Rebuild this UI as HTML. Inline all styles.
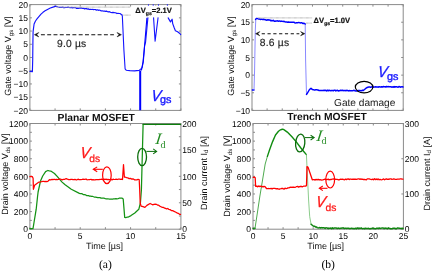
<!DOCTYPE html>
<html><head><meta charset="utf-8"><style>
html,body{margin:0;padding:0;background:#fff;width:433px;height:272px;overflow:hidden}
svg{display:block;will-change:transform;text-rendering:geometricPrecision}
</style></head><body>
<svg width="433" height="272" viewBox="0 0 433 272">
<rect width="433" height="272" fill="#fff"/>
<rect x="29.90" y="4.60" width="151.00" height="105.80" fill="none" stroke="#8a8a8a" stroke-width="1"/>
<line x1="29.90" y1="110.40" x2="29.90" y2="108.40" stroke="#8a8a8a" stroke-width="1" />
<line x1="29.90" y1="4.60" x2="29.90" y2="6.60" stroke="#8a8a8a" stroke-width="1" />
<line x1="55.07" y1="110.40" x2="55.07" y2="108.40" stroke="#8a8a8a" stroke-width="1" />
<line x1="55.07" y1="4.60" x2="55.07" y2="6.60" stroke="#8a8a8a" stroke-width="1" />
<line x1="80.23" y1="110.40" x2="80.23" y2="108.40" stroke="#8a8a8a" stroke-width="1" />
<line x1="80.23" y1="4.60" x2="80.23" y2="6.60" stroke="#8a8a8a" stroke-width="1" />
<line x1="105.40" y1="110.40" x2="105.40" y2="108.40" stroke="#8a8a8a" stroke-width="1" />
<line x1="105.40" y1="4.60" x2="105.40" y2="6.60" stroke="#8a8a8a" stroke-width="1" />
<line x1="130.57" y1="110.40" x2="130.57" y2="108.40" stroke="#8a8a8a" stroke-width="1" />
<line x1="130.57" y1="4.60" x2="130.57" y2="6.60" stroke="#8a8a8a" stroke-width="1" />
<line x1="155.73" y1="110.40" x2="155.73" y2="108.40" stroke="#8a8a8a" stroke-width="1" />
<line x1="155.73" y1="4.60" x2="155.73" y2="6.60" stroke="#8a8a8a" stroke-width="1" />
<line x1="180.90" y1="110.40" x2="180.90" y2="108.40" stroke="#8a8a8a" stroke-width="1" />
<line x1="180.90" y1="4.60" x2="180.90" y2="6.60" stroke="#8a8a8a" stroke-width="1" />
<line x1="29.90" y1="4.60" x2="31.90" y2="4.60" stroke="#8a8a8a" stroke-width="1" />
<line x1="180.90" y1="4.60" x2="178.90" y2="4.60" stroke="#8a8a8a" stroke-width="1" />
<line x1="29.90" y1="17.83" x2="31.90" y2="17.83" stroke="#8a8a8a" stroke-width="1" />
<line x1="180.90" y1="17.83" x2="178.90" y2="17.83" stroke="#8a8a8a" stroke-width="1" />
<line x1="29.90" y1="31.05" x2="31.90" y2="31.05" stroke="#8a8a8a" stroke-width="1" />
<line x1="180.90" y1="31.05" x2="178.90" y2="31.05" stroke="#8a8a8a" stroke-width="1" />
<line x1="29.90" y1="44.28" x2="31.90" y2="44.28" stroke="#8a8a8a" stroke-width="1" />
<line x1="180.90" y1="44.28" x2="178.90" y2="44.28" stroke="#8a8a8a" stroke-width="1" />
<line x1="29.90" y1="57.50" x2="31.90" y2="57.50" stroke="#8a8a8a" stroke-width="1" />
<line x1="180.90" y1="57.50" x2="178.90" y2="57.50" stroke="#8a8a8a" stroke-width="1" />
<line x1="29.90" y1="70.72" x2="31.90" y2="70.72" stroke="#8a8a8a" stroke-width="1" />
<line x1="180.90" y1="70.72" x2="178.90" y2="70.72" stroke="#8a8a8a" stroke-width="1" />
<line x1="29.90" y1="83.95" x2="31.90" y2="83.95" stroke="#8a8a8a" stroke-width="1" />
<line x1="180.90" y1="83.95" x2="178.90" y2="83.95" stroke="#8a8a8a" stroke-width="1" />
<line x1="29.90" y1="97.18" x2="31.90" y2="97.18" stroke="#8a8a8a" stroke-width="1" />
<line x1="180.90" y1="97.18" x2="178.90" y2="97.18" stroke="#8a8a8a" stroke-width="1" />
<line x1="29.90" y1="110.40" x2="31.90" y2="110.40" stroke="#8a8a8a" stroke-width="1" />
<line x1="180.90" y1="110.40" x2="178.90" y2="110.40" stroke="#8a8a8a" stroke-width="1" />
<rect x="29.90" y="123.50" width="151.00" height="105.70" fill="none" stroke="#8a8a8a" stroke-width="1"/>
<line x1="29.90" y1="229.20" x2="29.90" y2="227.20" stroke="#8a8a8a" stroke-width="1" />
<line x1="29.90" y1="123.50" x2="29.90" y2="125.50" stroke="#8a8a8a" stroke-width="1" />
<line x1="55.07" y1="229.20" x2="55.07" y2="227.20" stroke="#8a8a8a" stroke-width="1" />
<line x1="55.07" y1="123.50" x2="55.07" y2="125.50" stroke="#8a8a8a" stroke-width="1" />
<line x1="80.23" y1="229.20" x2="80.23" y2="227.20" stroke="#8a8a8a" stroke-width="1" />
<line x1="80.23" y1="123.50" x2="80.23" y2="125.50" stroke="#8a8a8a" stroke-width="1" />
<line x1="105.40" y1="229.20" x2="105.40" y2="227.20" stroke="#8a8a8a" stroke-width="1" />
<line x1="105.40" y1="123.50" x2="105.40" y2="125.50" stroke="#8a8a8a" stroke-width="1" />
<line x1="130.57" y1="229.20" x2="130.57" y2="227.20" stroke="#8a8a8a" stroke-width="1" />
<line x1="130.57" y1="123.50" x2="130.57" y2="125.50" stroke="#8a8a8a" stroke-width="1" />
<line x1="155.73" y1="229.20" x2="155.73" y2="227.20" stroke="#8a8a8a" stroke-width="1" />
<line x1="155.73" y1="123.50" x2="155.73" y2="125.50" stroke="#8a8a8a" stroke-width="1" />
<line x1="180.90" y1="229.20" x2="180.90" y2="227.20" stroke="#8a8a8a" stroke-width="1" />
<line x1="180.90" y1="123.50" x2="180.90" y2="125.50" stroke="#8a8a8a" stroke-width="1" />
<line x1="29.90" y1="123.50" x2="31.90" y2="123.50" stroke="#8a8a8a" stroke-width="1" />
<line x1="29.90" y1="132.31" x2="31.90" y2="132.31" stroke="#8a8a8a" stroke-width="1" />
<line x1="29.90" y1="141.12" x2="31.90" y2="141.12" stroke="#8a8a8a" stroke-width="1" />
<line x1="29.90" y1="149.93" x2="31.90" y2="149.93" stroke="#8a8a8a" stroke-width="1" />
<line x1="29.90" y1="158.73" x2="31.90" y2="158.73" stroke="#8a8a8a" stroke-width="1" />
<line x1="29.90" y1="167.54" x2="31.90" y2="167.54" stroke="#8a8a8a" stroke-width="1" />
<line x1="29.90" y1="176.35" x2="31.90" y2="176.35" stroke="#8a8a8a" stroke-width="1" />
<line x1="29.90" y1="185.16" x2="31.90" y2="185.16" stroke="#8a8a8a" stroke-width="1" />
<line x1="29.90" y1="193.97" x2="31.90" y2="193.97" stroke="#8a8a8a" stroke-width="1" />
<line x1="29.90" y1="202.77" x2="31.90" y2="202.77" stroke="#8a8a8a" stroke-width="1" />
<line x1="29.90" y1="211.58" x2="31.90" y2="211.58" stroke="#8a8a8a" stroke-width="1" />
<line x1="29.90" y1="220.39" x2="31.90" y2="220.39" stroke="#8a8a8a" stroke-width="1" />
<line x1="29.90" y1="229.20" x2="31.90" y2="229.20" stroke="#8a8a8a" stroke-width="1" />
<line x1="180.90" y1="123.50" x2="178.90" y2="123.50" stroke="#8a8a8a" stroke-width="1" />
<line x1="180.90" y1="136.71" x2="178.90" y2="136.71" stroke="#8a8a8a" stroke-width="1" />
<line x1="180.90" y1="149.93" x2="178.90" y2="149.93" stroke="#8a8a8a" stroke-width="1" />
<line x1="180.90" y1="163.14" x2="178.90" y2="163.14" stroke="#8a8a8a" stroke-width="1" />
<line x1="180.90" y1="176.35" x2="178.90" y2="176.35" stroke="#8a8a8a" stroke-width="1" />
<line x1="180.90" y1="189.56" x2="178.90" y2="189.56" stroke="#8a8a8a" stroke-width="1" />
<line x1="180.90" y1="202.77" x2="178.90" y2="202.77" stroke="#8a8a8a" stroke-width="1" />
<line x1="180.90" y1="215.99" x2="178.90" y2="215.99" stroke="#8a8a8a" stroke-width="1" />
<line x1="180.90" y1="229.20" x2="178.90" y2="229.20" stroke="#8a8a8a" stroke-width="1" />
<rect x="252.00" y="4.60" width="151.20" height="105.80" fill="none" stroke="#8a8a8a" stroke-width="1"/>
<line x1="252.00" y1="110.40" x2="252.00" y2="108.40" stroke="#8a8a8a" stroke-width="1" />
<line x1="252.00" y1="4.60" x2="252.00" y2="6.60" stroke="#8a8a8a" stroke-width="1" />
<line x1="267.12" y1="110.40" x2="267.12" y2="108.40" stroke="#8a8a8a" stroke-width="1" />
<line x1="267.12" y1="4.60" x2="267.12" y2="6.60" stroke="#8a8a8a" stroke-width="1" />
<line x1="282.24" y1="110.40" x2="282.24" y2="108.40" stroke="#8a8a8a" stroke-width="1" />
<line x1="282.24" y1="4.60" x2="282.24" y2="6.60" stroke="#8a8a8a" stroke-width="1" />
<line x1="297.36" y1="110.40" x2="297.36" y2="108.40" stroke="#8a8a8a" stroke-width="1" />
<line x1="297.36" y1="4.60" x2="297.36" y2="6.60" stroke="#8a8a8a" stroke-width="1" />
<line x1="312.48" y1="110.40" x2="312.48" y2="108.40" stroke="#8a8a8a" stroke-width="1" />
<line x1="312.48" y1="4.60" x2="312.48" y2="6.60" stroke="#8a8a8a" stroke-width="1" />
<line x1="327.60" y1="110.40" x2="327.60" y2="108.40" stroke="#8a8a8a" stroke-width="1" />
<line x1="327.60" y1="4.60" x2="327.60" y2="6.60" stroke="#8a8a8a" stroke-width="1" />
<line x1="342.72" y1="110.40" x2="342.72" y2="108.40" stroke="#8a8a8a" stroke-width="1" />
<line x1="342.72" y1="4.60" x2="342.72" y2="6.60" stroke="#8a8a8a" stroke-width="1" />
<line x1="357.84" y1="110.40" x2="357.84" y2="108.40" stroke="#8a8a8a" stroke-width="1" />
<line x1="357.84" y1="4.60" x2="357.84" y2="6.60" stroke="#8a8a8a" stroke-width="1" />
<line x1="372.96" y1="110.40" x2="372.96" y2="108.40" stroke="#8a8a8a" stroke-width="1" />
<line x1="372.96" y1="4.60" x2="372.96" y2="6.60" stroke="#8a8a8a" stroke-width="1" />
<line x1="388.08" y1="110.40" x2="388.08" y2="108.40" stroke="#8a8a8a" stroke-width="1" />
<line x1="388.08" y1="4.60" x2="388.08" y2="6.60" stroke="#8a8a8a" stroke-width="1" />
<line x1="403.20" y1="110.40" x2="403.20" y2="108.40" stroke="#8a8a8a" stroke-width="1" />
<line x1="403.20" y1="4.60" x2="403.20" y2="6.60" stroke="#8a8a8a" stroke-width="1" />
<line x1="252.00" y1="4.60" x2="254.00" y2="4.60" stroke="#8a8a8a" stroke-width="1" />
<line x1="403.20" y1="4.60" x2="401.20" y2="4.60" stroke="#8a8a8a" stroke-width="1" />
<line x1="252.00" y1="22.23" x2="254.00" y2="22.23" stroke="#8a8a8a" stroke-width="1" />
<line x1="403.20" y1="22.23" x2="401.20" y2="22.23" stroke="#8a8a8a" stroke-width="1" />
<line x1="252.00" y1="39.87" x2="254.00" y2="39.87" stroke="#8a8a8a" stroke-width="1" />
<line x1="403.20" y1="39.87" x2="401.20" y2="39.87" stroke="#8a8a8a" stroke-width="1" />
<line x1="252.00" y1="57.50" x2="254.00" y2="57.50" stroke="#8a8a8a" stroke-width="1" />
<line x1="403.20" y1="57.50" x2="401.20" y2="57.50" stroke="#8a8a8a" stroke-width="1" />
<line x1="252.00" y1="75.13" x2="254.00" y2="75.13" stroke="#8a8a8a" stroke-width="1" />
<line x1="403.20" y1="75.13" x2="401.20" y2="75.13" stroke="#8a8a8a" stroke-width="1" />
<line x1="252.00" y1="92.77" x2="254.00" y2="92.77" stroke="#8a8a8a" stroke-width="1" />
<line x1="403.20" y1="92.77" x2="401.20" y2="92.77" stroke="#8a8a8a" stroke-width="1" />
<line x1="252.00" y1="110.40" x2="254.00" y2="110.40" stroke="#8a8a8a" stroke-width="1" />
<line x1="403.20" y1="110.40" x2="401.20" y2="110.40" stroke="#8a8a8a" stroke-width="1" />
<rect x="253.00" y="123.50" width="150.40" height="105.70" fill="none" stroke="#8a8a8a" stroke-width="1"/>
<line x1="253.00" y1="229.20" x2="253.00" y2="227.20" stroke="#8a8a8a" stroke-width="1" />
<line x1="253.00" y1="123.50" x2="253.00" y2="125.50" stroke="#8a8a8a" stroke-width="1" />
<line x1="268.04" y1="229.20" x2="268.04" y2="227.20" stroke="#8a8a8a" stroke-width="1" />
<line x1="268.04" y1="123.50" x2="268.04" y2="125.50" stroke="#8a8a8a" stroke-width="1" />
<line x1="283.08" y1="229.20" x2="283.08" y2="227.20" stroke="#8a8a8a" stroke-width="1" />
<line x1="283.08" y1="123.50" x2="283.08" y2="125.50" stroke="#8a8a8a" stroke-width="1" />
<line x1="298.12" y1="229.20" x2="298.12" y2="227.20" stroke="#8a8a8a" stroke-width="1" />
<line x1="298.12" y1="123.50" x2="298.12" y2="125.50" stroke="#8a8a8a" stroke-width="1" />
<line x1="313.16" y1="229.20" x2="313.16" y2="227.20" stroke="#8a8a8a" stroke-width="1" />
<line x1="313.16" y1="123.50" x2="313.16" y2="125.50" stroke="#8a8a8a" stroke-width="1" />
<line x1="328.20" y1="229.20" x2="328.20" y2="227.20" stroke="#8a8a8a" stroke-width="1" />
<line x1="328.20" y1="123.50" x2="328.20" y2="125.50" stroke="#8a8a8a" stroke-width="1" />
<line x1="343.24" y1="229.20" x2="343.24" y2="227.20" stroke="#8a8a8a" stroke-width="1" />
<line x1="343.24" y1="123.50" x2="343.24" y2="125.50" stroke="#8a8a8a" stroke-width="1" />
<line x1="358.28" y1="229.20" x2="358.28" y2="227.20" stroke="#8a8a8a" stroke-width="1" />
<line x1="358.28" y1="123.50" x2="358.28" y2="125.50" stroke="#8a8a8a" stroke-width="1" />
<line x1="373.32" y1="229.20" x2="373.32" y2="227.20" stroke="#8a8a8a" stroke-width="1" />
<line x1="373.32" y1="123.50" x2="373.32" y2="125.50" stroke="#8a8a8a" stroke-width="1" />
<line x1="388.36" y1="229.20" x2="388.36" y2="227.20" stroke="#8a8a8a" stroke-width="1" />
<line x1="388.36" y1="123.50" x2="388.36" y2="125.50" stroke="#8a8a8a" stroke-width="1" />
<line x1="403.40" y1="229.20" x2="403.40" y2="227.20" stroke="#8a8a8a" stroke-width="1" />
<line x1="403.40" y1="123.50" x2="403.40" y2="125.50" stroke="#8a8a8a" stroke-width="1" />
<line x1="253.00" y1="123.50" x2="255.00" y2="123.50" stroke="#8a8a8a" stroke-width="1" />
<line x1="253.00" y1="132.31" x2="255.00" y2="132.31" stroke="#8a8a8a" stroke-width="1" />
<line x1="253.00" y1="141.12" x2="255.00" y2="141.12" stroke="#8a8a8a" stroke-width="1" />
<line x1="253.00" y1="149.93" x2="255.00" y2="149.93" stroke="#8a8a8a" stroke-width="1" />
<line x1="253.00" y1="158.73" x2="255.00" y2="158.73" stroke="#8a8a8a" stroke-width="1" />
<line x1="253.00" y1="167.54" x2="255.00" y2="167.54" stroke="#8a8a8a" stroke-width="1" />
<line x1="253.00" y1="176.35" x2="255.00" y2="176.35" stroke="#8a8a8a" stroke-width="1" />
<line x1="253.00" y1="185.16" x2="255.00" y2="185.16" stroke="#8a8a8a" stroke-width="1" />
<line x1="253.00" y1="193.97" x2="255.00" y2="193.97" stroke="#8a8a8a" stroke-width="1" />
<line x1="253.00" y1="202.77" x2="255.00" y2="202.77" stroke="#8a8a8a" stroke-width="1" />
<line x1="253.00" y1="211.58" x2="255.00" y2="211.58" stroke="#8a8a8a" stroke-width="1" />
<line x1="253.00" y1="220.39" x2="255.00" y2="220.39" stroke="#8a8a8a" stroke-width="1" />
<line x1="253.00" y1="229.20" x2="255.00" y2="229.20" stroke="#8a8a8a" stroke-width="1" />
<line x1="403.40" y1="123.50" x2="401.40" y2="123.50" stroke="#8a8a8a" stroke-width="1" />
<line x1="403.40" y1="158.73" x2="401.40" y2="158.73" stroke="#8a8a8a" stroke-width="1" />
<line x1="403.40" y1="193.97" x2="401.40" y2="193.97" stroke="#8a8a8a" stroke-width="1" />
<line x1="403.40" y1="229.20" x2="401.40" y2="229.20" stroke="#8a8a8a" stroke-width="1" />
<text x="28.00" y="7.80" font-family='"Liberation Sans", sans-serif' font-size="8.5" text-anchor="end" font-weight="normal" font-style="normal" fill="#000" >20</text>
<text x="28.00" y="21.03" font-family='"Liberation Sans", sans-serif' font-size="8.5" text-anchor="end" font-weight="normal" font-style="normal" fill="#000" >15</text>
<text x="28.00" y="34.25" font-family='"Liberation Sans", sans-serif' font-size="8.5" text-anchor="end" font-weight="normal" font-style="normal" fill="#000" >10</text>
<text x="28.00" y="47.48" font-family='"Liberation Sans", sans-serif' font-size="8.5" text-anchor="end" font-weight="normal" font-style="normal" fill="#000" >5</text>
<text x="28.00" y="60.70" font-family='"Liberation Sans", sans-serif' font-size="8.5" text-anchor="end" font-weight="normal" font-style="normal" fill="#000" >0</text>
<text x="28.00" y="73.92" font-family='"Liberation Sans", sans-serif' font-size="8.5" text-anchor="end" font-weight="normal" font-style="normal" fill="#000" >−5</text>
<text x="28.00" y="87.15" font-family='"Liberation Sans", sans-serif' font-size="8.5" text-anchor="end" font-weight="normal" font-style="normal" fill="#000" >−10</text>
<text x="28.00" y="100.38" font-family='"Liberation Sans", sans-serif' font-size="8.5" text-anchor="end" font-weight="normal" font-style="normal" fill="#000" >−15</text>
<text x="28.00" y="113.60" font-family='"Liberation Sans", sans-serif' font-size="8.5" text-anchor="end" font-weight="normal" font-style="normal" fill="#000" >−20</text>
<text x="28.00" y="126.70" font-family='"Liberation Sans", sans-serif' font-size="8.5" text-anchor="end" font-weight="normal" font-style="normal" fill="#000" >1200</text>
<text x="28.00" y="144.32" font-family='"Liberation Sans", sans-serif' font-size="8.5" text-anchor="end" font-weight="normal" font-style="normal" fill="#000" >1000</text>
<text x="28.00" y="161.93" font-family='"Liberation Sans", sans-serif' font-size="8.5" text-anchor="end" font-weight="normal" font-style="normal" fill="#000" >800</text>
<text x="28.00" y="179.55" font-family='"Liberation Sans", sans-serif' font-size="8.5" text-anchor="end" font-weight="normal" font-style="normal" fill="#000" >600</text>
<text x="28.00" y="197.17" font-family='"Liberation Sans", sans-serif' font-size="8.5" text-anchor="end" font-weight="normal" font-style="normal" fill="#000" >400</text>
<text x="28.00" y="214.78" font-family='"Liberation Sans", sans-serif' font-size="8.5" text-anchor="end" font-weight="normal" font-style="normal" fill="#000" >200</text>
<text x="28.00" y="232.40" font-family='"Liberation Sans", sans-serif' font-size="8.5" text-anchor="end" font-weight="normal" font-style="normal" fill="#000" >0</text>
<text x="182.30" y="126.70" font-family='"Liberation Sans", sans-serif' font-size="8.5" text-anchor="start" font-weight="normal" font-style="normal" fill="#000" >200</text>
<text x="182.30" y="153.12" font-family='"Liberation Sans", sans-serif' font-size="8.5" text-anchor="start" font-weight="normal" font-style="normal" fill="#000" >150</text>
<text x="182.30" y="179.55" font-family='"Liberation Sans", sans-serif' font-size="8.5" text-anchor="start" font-weight="normal" font-style="normal" fill="#000" >100</text>
<text x="182.30" y="205.97" font-family='"Liberation Sans", sans-serif' font-size="8.5" text-anchor="start" font-weight="normal" font-style="normal" fill="#000" >50</text>
<text x="182.30" y="232.40" font-family='"Liberation Sans", sans-serif' font-size="8.5" text-anchor="start" font-weight="normal" font-style="normal" fill="#000" >0</text>
<text x="29.90" y="238.70" font-family='"Liberation Sans", sans-serif' font-size="8.5" text-anchor="middle" font-weight="normal" font-style="normal" fill="#000" >0</text>
<text x="80.23" y="238.70" font-family='"Liberation Sans", sans-serif' font-size="8.5" text-anchor="middle" font-weight="normal" font-style="normal" fill="#000" >5</text>
<text x="130.57" y="238.70" font-family='"Liberation Sans", sans-serif' font-size="8.5" text-anchor="middle" font-weight="normal" font-style="normal" fill="#000" >10</text>
<text x="180.90" y="238.70" font-family='"Liberation Sans", sans-serif' font-size="8.5" text-anchor="middle" font-weight="normal" font-style="normal" fill="#000" >15</text>
<text x="250.10" y="7.80" font-family='"Liberation Sans", sans-serif' font-size="8.5" text-anchor="end" font-weight="normal" font-style="normal" fill="#000" >20</text>
<text x="250.10" y="25.43" font-family='"Liberation Sans", sans-serif' font-size="8.5" text-anchor="end" font-weight="normal" font-style="normal" fill="#000" >15</text>
<text x="250.10" y="43.07" font-family='"Liberation Sans", sans-serif' font-size="8.5" text-anchor="end" font-weight="normal" font-style="normal" fill="#000" >10</text>
<text x="250.10" y="60.70" font-family='"Liberation Sans", sans-serif' font-size="8.5" text-anchor="end" font-weight="normal" font-style="normal" fill="#000" >5</text>
<text x="250.10" y="78.33" font-family='"Liberation Sans", sans-serif' font-size="8.5" text-anchor="end" font-weight="normal" font-style="normal" fill="#000" >0</text>
<text x="250.10" y="95.97" font-family='"Liberation Sans", sans-serif' font-size="8.5" text-anchor="end" font-weight="normal" font-style="normal" fill="#000" >−5</text>
<text x="250.10" y="113.60" font-family='"Liberation Sans", sans-serif' font-size="8.5" text-anchor="end" font-weight="normal" font-style="normal" fill="#000" >−10</text>
<text x="250.90" y="126.70" font-family='"Liberation Sans", sans-serif' font-size="8.5" text-anchor="end" font-weight="normal" font-style="normal" fill="#000" >1200</text>
<text x="250.90" y="144.32" font-family='"Liberation Sans", sans-serif' font-size="8.5" text-anchor="end" font-weight="normal" font-style="normal" fill="#000" >1000</text>
<text x="250.90" y="161.93" font-family='"Liberation Sans", sans-serif' font-size="8.5" text-anchor="end" font-weight="normal" font-style="normal" fill="#000" >800</text>
<text x="250.90" y="179.55" font-family='"Liberation Sans", sans-serif' font-size="8.5" text-anchor="end" font-weight="normal" font-style="normal" fill="#000" >600</text>
<text x="250.90" y="197.17" font-family='"Liberation Sans", sans-serif' font-size="8.5" text-anchor="end" font-weight="normal" font-style="normal" fill="#000" >400</text>
<text x="250.90" y="214.78" font-family='"Liberation Sans", sans-serif' font-size="8.5" text-anchor="end" font-weight="normal" font-style="normal" fill="#000" >200</text>
<text x="250.90" y="232.40" font-family='"Liberation Sans", sans-serif' font-size="8.5" text-anchor="end" font-weight="normal" font-style="normal" fill="#000" >0</text>
<text x="404.80" y="126.70" font-family='"Liberation Sans", sans-serif' font-size="8.5" text-anchor="start" font-weight="normal" font-style="normal" fill="#000" >300</text>
<text x="404.80" y="161.93" font-family='"Liberation Sans", sans-serif' font-size="8.5" text-anchor="start" font-weight="normal" font-style="normal" fill="#000" >200</text>
<text x="404.80" y="197.17" font-family='"Liberation Sans", sans-serif' font-size="8.5" text-anchor="start" font-weight="normal" font-style="normal" fill="#000" >100</text>
<text x="404.80" y="232.40" font-family='"Liberation Sans", sans-serif' font-size="8.5" text-anchor="start" font-weight="normal" font-style="normal" fill="#000" >0</text>
<text x="253.00" y="238.70" font-family='"Liberation Sans", sans-serif' font-size="8.5" text-anchor="middle" font-weight="normal" font-style="normal" fill="#000" >0</text>
<text x="283.08" y="238.70" font-family='"Liberation Sans", sans-serif' font-size="8.5" text-anchor="middle" font-weight="normal" font-style="normal" fill="#000" >5</text>
<text x="313.16" y="238.70" font-family='"Liberation Sans", sans-serif' font-size="8.5" text-anchor="middle" font-weight="normal" font-style="normal" fill="#000" >10</text>
<text x="343.24" y="238.70" font-family='"Liberation Sans", sans-serif' font-size="8.5" text-anchor="middle" font-weight="normal" font-style="normal" fill="#000" >15</text>
<text x="373.32" y="238.70" font-family='"Liberation Sans", sans-serif' font-size="8.5" text-anchor="middle" font-weight="normal" font-style="normal" fill="#000" >20</text>
<text x="403.40" y="238.70" font-family='"Liberation Sans", sans-serif' font-size="8.5" text-anchor="middle" font-weight="normal" font-style="normal" fill="#000" >25</text>
<text transform="translate(11.30,56.00) rotate(-90)" font-family='"Liberation Sans", sans-serif' font-size="9" text-anchor="middle" fill="#111">Gate voltage V<tspan font-size="6.1" dy="1.5">gs</tspan><tspan dy="-1.5"> </tspan>[V]</text>
<text transform="translate(234.30,56.00) rotate(-90)" font-family='"Liberation Sans", sans-serif' font-size="9" text-anchor="middle" fill="#111">Gate voltage V<tspan font-size="6.1" dy="1.5">gs</tspan><tspan dy="-1.5"> </tspan>[V]</text>
<text transform="translate(8.00,174.00) rotate(-90)" font-family='"Liberation Sans", sans-serif' font-size="9" text-anchor="middle" fill="#111">Drain voltage V<tspan font-size="6.1" dy="1.5">ds</tspan><tspan dy="-1.5"> </tspan>[V]</text>
<text transform="translate(230.30,176.00) rotate(-90)" font-family='"Liberation Sans", sans-serif' font-size="9" text-anchor="middle" fill="#111">Drain voltage V<tspan font-size="6.1" dy="1.5">ds</tspan><tspan dy="-1.5"> </tspan>[V]</text>
<text transform="translate(206.60,173.00) rotate(-90)" font-family='"Liberation Sans", sans-serif' font-size="9" text-anchor="middle" fill="#111">Drain current I<tspan font-size="6.1" dy="1.5">d</tspan><tspan dy="-1.5"> </tspan>[A]</text>
<text transform="translate(429.60,173.50) rotate(-90)" font-family='"Liberation Sans", sans-serif' font-size="9" text-anchor="middle" fill="#111">Drain current I<tspan font-size="6.1" dy="1.5">d</tspan><tspan dy="-1.5"> </tspan>[A]</text>
<text x="104.50" y="249.00" font-family='"Liberation Sans", sans-serif' font-size="9.0" text-anchor="middle" font-weight="normal" font-style="normal" fill="#111" >Time [µs]</text>
<text x="325.70" y="249.00" font-family='"Liberation Sans", sans-serif' font-size="9.0" text-anchor="middle" font-weight="normal" font-style="normal" fill="#111" >Time [µs]</text>
<text x="105.40" y="268.10" font-family='"Liberation Serif", serif' font-size="11.6" text-anchor="middle" font-weight="normal" font-style="normal" fill="#000" >(a)</text>
<text x="328.20" y="268.10" font-family='"Liberation Serif", serif' font-size="11.6" text-anchor="middle" font-weight="normal" font-style="normal" fill="#000" >(b)</text>
<text x="96.20" y="120.90" font-family='"Liberation Sans", sans-serif' font-size="10.3" text-anchor="middle" font-weight="bold" font-style="normal" fill="#111" >Planar MOSFET</text>
<text x="327.10" y="120.10" font-family='"Liberation Sans", sans-serif' font-size="10.3" text-anchor="middle" font-weight="bold" font-style="normal" fill="#111" >Trench MOSFET</text>
<polyline points="29.90,71.40 32.40,71.60 32.70,60.00 32.90,42.00 33.10,31.40 34.10,24.00 35.50,21.00 37.00,18.90 38.90,16.70 41.00,14.20 43.00,12.30 45.10,10.80 47.50,9.40 50.30,8.00 53.00,7.10 55.40,6.40" fill="none" stroke="#1414ff" stroke-width="1.15" stroke-linejoin="round" stroke-linecap="round" />
<polyline points="55.40,6.40 56.70,6.43 58.00,7.00 59.00,7.30 60.00,7.30 60.91,7.44 61.82,7.34 62.73,7.15 63.64,7.64 64.55,7.68 65.45,7.47 66.36,7.49 67.27,7.31 68.18,7.15 69.09,7.47 70.00,7.60 70.91,7.71 71.82,7.35 72.73,7.97 73.64,7.57 74.55,7.61 75.45,7.51 76.36,8.32 77.27,8.15 78.18,8.31 79.09,8.15 80.00,8.10 80.91,7.84 81.82,8.18 82.73,8.43 83.64,8.23 84.55,9.01 85.45,8.65 86.36,8.59 87.27,9.23 88.18,8.78 89.09,9.53 90.00,9.30 90.91,9.35 91.82,9.52 92.73,9.45 93.64,9.65 94.55,9.50 95.45,9.48 96.36,10.23 97.27,9.82 98.18,10.34 99.09,9.98 100.00,10.30 100.91,10.83 101.82,10.92 102.73,10.97 103.64,11.13 104.55,11.14 105.45,11.41 106.36,11.08 107.27,11.52 108.18,11.95 109.09,11.61 110.00,12.00 111.00,12.50 112.00,12.64 113.00,12.42 114.00,12.54 115.00,12.77 116.00,12.88 117.00,13.53 118.00,13.30 119.00,13.51 120.00,13.52 121.00,14.20 122.30,15.20" fill="none" stroke="#1414ff" stroke-width="1.2" stroke-linejoin="round" stroke-linecap="round" />
<polyline points="122.30,15.20 123.90,50.00 125.10,68.80 126.20,70.20 129.80,70.60 134.50,70.90 139.20,70.40 140.90,68.80 142.10,67.60 143.30,61.80 144.60,45.90 145.60,42.00 147.90,18.00 148.50,4.80" fill="none" stroke="#1414ff" stroke-width="1.1" stroke-linejoin="round" stroke-linecap="round" />
<polyline points="141.50,70.00 143.00,62.00 144.20,50.00 146.90,18.00" fill="none" stroke="#0000ff" stroke-width="1.1" stroke-linejoin="round" stroke-linecap="round" />
<line x1="140.20" y1="70.50" x2="140.20" y2="110.20" stroke="#0000ff" stroke-width="2" />
<polyline points="153.20,4.80 153.60,18.20 155.10,41.10 158.00,18.20 158.50,4.80" fill="none" stroke="#1414ff" stroke-width="1.1" stroke-linejoin="round" stroke-linecap="round" />
<polyline points="167.40,4.80 168.30,18.10 170.50,21.90 172.10,19.20 172.70,23.60 174.30,28.00 175.40,30.70 177.60,31.80 179.80,33.50 180.70,34.60" fill="none" stroke="#1414ff" stroke-width="1.15" stroke-linejoin="round" stroke-linecap="round" />
<line x1="56.00" y1="7.20" x2="130.60" y2="7.20" stroke="#b0b0b0" stroke-width="1.2" stroke-dasharray="0.7 0.5"/>
<line x1="122.50" y1="15.20" x2="130.60" y2="15.20" stroke="#b0b0b0" stroke-width="1.2" stroke-dasharray="0.7 0.5"/>
<rect x="133" y="5.6" width="46" height="11.8" fill="#fff"/>
<text x="135.30" y="13.20" font-family='"Liberation Sans", sans-serif' font-size="7.6" text-anchor="start" font-weight="bold" font-style="normal" fill="#111" stroke="#111" stroke-width="0.2">ΔV<tspan font-size="5.1" dy="1.5">gs</tspan><tspan dy="-1.5">=2.1V</tspan></text>
<line x1="40.90" y1="34.70" x2="113.90" y2="34.70" stroke="#111" stroke-width="1.15" stroke-dasharray="3.95 2.35"/>
<path d="M34.40,34.70 L38.80,32.50 L36.82,34.70 L38.80,36.90 Z" fill="#111" stroke="#111" stroke-width="0.5" stroke-linejoin="round"/>
<path d="M121.40,34.70 L117.00,32.50 L118.98,34.70 L117.00,36.90 Z" fill="#111" stroke="#111" stroke-width="0.5" stroke-linejoin="round"/>
<text x="57.00" y="46.90" font-family='"Liberation Sans", sans-serif' font-size="10.3" text-anchor="start" font-weight="normal" font-style="normal" fill="#222" letter-spacing="0.2" stroke="#222" stroke-width="0.15">9.0 µs</text>
<text transform="translate(150.7,100.5) skewX(-7) scale(0.94,1)" font-family='"Liberation Sans", sans-serif' font-size="15.6" font-style="italic" fill="#1a1aff" stroke="#1a1aff" stroke-width="0.3">V</text>
<text x="160.10" y="103.10" font-family='"Liberation Sans", sans-serif' font-size="10.8" text-anchor="start" font-weight="normal" font-style="normal" fill="#1a1aff" stroke="#1a1aff" stroke-width="0.4">gs</text>
<polyline points="29.90,228.70 30.93,228.54 31.97,228.73 33.00,228.70 34.00,222.50 36.20,209.20 37.50,197.00 38.10,192.00 40.50,181.10 42.70,176.00 45.60,171.60 46.75,170.97 47.90,170.50 49.35,170.86 50.80,171.10 54.50,173.50 57.40,176.70 61.80,181.90 64.80,184.50 71.30,189.30 79.40,193.40 80.41,193.74 81.43,193.66 82.44,193.90 83.45,194.65 84.46,194.57 85.47,194.82 86.49,195.53 87.50,195.50 88.51,195.68 89.53,196.10 90.54,196.09 91.55,196.38 92.56,196.29 93.57,196.78 94.59,197.12 95.60,197.10 96.68,197.29 97.76,197.60 98.83,197.74 99.91,197.55 100.99,198.14 102.07,198.22 103.14,198.23 104.22,198.24 105.30,198.70 106.37,198.97 107.43,198.78 108.50,198.98 109.57,199.13 110.63,199.08 111.70,199.00 112.75,199.17 113.80,198.78 114.85,198.94 115.90,198.65 116.95,198.86 118.00,198.75 119.05,198.20 120.10,198.14 121.15,198.11 122.20,198.20 123.20,199.00 124.70,217.40 125.77,217.61 126.83,217.23 127.90,217.20 131.00,215.60 134.80,213.00 138.80,209.30 140.40,203.00 141.40,190.00 143.10,124.40" fill="none" stroke="#139213" stroke-width="1.25" stroke-linejoin="round" stroke-linecap="round" />
<polyline points="143.10,124.40 180.50,124.40" fill="none" stroke="#0c7f0c" stroke-width="1.2" stroke-linejoin="round" stroke-linecap="round" />
<polyline points="29.90,176.70 31.15,176.46 32.40,176.70 33.10,178.20 33.40,189.30 34.60,185.30 37.60,183.00 39.05,182.09 40.50,181.90 41.60,181.73 42.70,181.44 43.80,181.28 44.90,181.60 45.90,181.38 46.90,181.71 47.90,181.20 49.40,179.70 50.70,179.82 52.00,179.40 53.08,179.68 54.16,179.23 55.24,179.55 56.32,179.36 57.40,179.60 58.58,179.27 59.76,179.17 60.94,179.22 62.12,179.82 63.30,179.40 64.75,179.30 66.20,178.60 67.47,179.21 68.73,179.54 70.00,179.60 71.00,179.28 72.00,179.35 73.00,179.59 74.00,179.65 75.00,179.40 76.00,179.76 77.00,179.82 78.00,179.15 79.00,179.66 80.00,179.60 81.00,179.69 82.00,179.49 83.00,179.13 84.00,179.34 85.00,179.30 86.00,178.97 87.00,179.77 88.00,179.75 89.00,179.50 90.00,179.50 91.00,179.34 92.00,179.90 93.00,179.62 94.00,179.91 95.00,179.90 96.00,179.60 97.00,179.60 98.00,179.50 99.00,179.66 100.00,179.49 101.00,179.24 102.00,179.36 103.00,179.80 104.00,179.10 105.00,179.50 106.00,179.09 107.00,179.61 108.00,179.30 109.00,179.53 110.00,179.47 111.00,179.36 112.00,179.95 113.00,179.23 114.00,179.42 115.00,179.50 116.13,179.18 117.27,179.52 118.40,179.15 119.53,179.17 120.67,179.47 121.80,179.20 122.50,179.50 123.50,164.60 124.40,177.20 125.50,177.24 126.60,177.65 127.70,177.80 129.03,178.60 130.37,178.31 131.70,179.10 132.70,178.88 133.70,179.21 134.70,179.86 135.70,179.80 136.87,179.80 138.03,179.36 139.20,179.50 139.70,190.00 140.20,203.00 141.10,206.10 143.00,206.70 144.90,207.40 146.90,205.40 150.10,203.50 152.60,204.80 153.90,204.30 155.20,204.10 156.32,204.31 157.45,205.06 158.57,205.19 159.70,206.10 161.00,206.71 162.30,207.32 163.60,207.40 164.62,208.19 165.64,208.37 166.66,208.95 167.68,208.49 168.70,209.30 170.00,209.54 171.30,210.59 172.60,210.60 176.40,212.50 177.43,213.22 178.45,213.37 179.47,214.32 180.50,214.40" fill="none" stroke="#ff0000" stroke-width="1.25" stroke-linejoin="round" stroke-linecap="round" />
<ellipse cx="106.9" cy="175.2" rx="4.3" ry="8.4" fill="none" stroke="#ff0000" stroke-width="1.2"/>
<line x1="102.80" y1="169.30" x2="93.50" y2="169.30" stroke="#ff0000" stroke-width="1.1" />
<polyline points="97.2,166.9 93.3,169.3 97.2,171.7" fill="none" stroke="#ff0000" stroke-width="1.1"/>
<ellipse cx="142.1" cy="157" rx="4.4" ry="8.6" fill="none" stroke="#0b6e0b" stroke-width="1.3"/>
<line x1="146.40" y1="151.40" x2="156.30" y2="151.40" stroke="#0b6e0b" stroke-width="1.0" />
<polyline points="153.2,148.9 156.6,151.4 153.2,153.9" fill="none" stroke="#0b6e0b" stroke-width="1.1"/>
<text transform="translate(79.8,158.1) skewX(-7) scale(0.94,1)" font-family='"Liberation Sans", sans-serif' font-size="15.6" font-style="italic" fill="#ff1a1a" stroke="#ff1a1a" stroke-width="0.3">V</text>
<text x="89.30" y="161.80" font-family='"Liberation Sans", sans-serif' font-size="10.3" text-anchor="start" font-weight="normal" font-style="normal" fill="#ff1a1a" stroke="#ff1a1a" stroke-width="0.25">ds</text>
<text transform="translate(155.0,144.4) skewX(-8)" font-family='"Liberation Serif", serif' font-size="16" font-style="italic" fill="#228b22">I</text>
<text x="160.40" y="148.30" font-family='"Liberation Serif", serif' font-size="10" text-anchor="start" font-weight="normal" font-style="normal" fill="#228b22" >d</text>
<polyline points="252.30,90.00 254.00,90.00" fill="none" stroke="#0000ff" stroke-width="1.4" stroke-linejoin="round" stroke-linecap="round" />
<polyline points="254.00,90.00 254.60,70.00 255.30,30.00 255.80,19.50" fill="none" stroke="#6b6bff" stroke-width="0.8" stroke-linejoin="round" stroke-linecap="round" />
<polyline points="305.20,24.00 305.60,60.00 306.50,94.40" fill="none" stroke="#6b6bff" stroke-width="0.8" stroke-linejoin="round" stroke-linecap="round" />
<polyline points="255.60,19.40 256.40,18.40 257.50,18.61 258.60,18.90 259.41,19.05 260.23,19.44 261.04,19.17 261.86,19.31 262.67,19.47 263.49,19.25 264.30,19.60 265.20,19.72 266.10,19.93 267.00,20.17 267.90,19.73 268.80,20.01 269.70,19.95 270.60,20.64 271.50,20.50 272.40,20.74 273.30,20.31 274.20,21.15 275.10,21.22 276.00,21.06 276.90,21.12 277.80,20.84 278.70,21.20 279.59,20.90 280.48,21.40 281.36,21.11 282.25,21.30 283.14,21.43 284.02,21.35 284.91,21.78 285.80,21.90 286.70,21.90 287.60,22.27 288.50,22.07 289.40,22.21 290.30,22.15 291.20,22.33 292.10,22.22 293.00,22.30 293.89,22.20 294.77,22.85 295.66,22.92 296.55,22.87 297.44,22.84 298.33,22.60 299.21,22.61 300.10,22.90 300.96,22.83 301.82,22.76 302.68,23.41 303.54,23.22 304.40,23.40 305.20,24.00" fill="none" stroke="#0000ff" stroke-width="1.5" stroke-linejoin="round" stroke-linecap="round" />
<polyline points="306.50,94.40 307.20,93.50 309.50,89.50 311.00,88.30 312.50,89.60 313.33,89.67 314.17,89.90 315.00,90.00 315.83,89.67 316.67,89.65 317.50,90.03 318.33,90.04 319.17,90.56 320.00,90.40 320.83,90.57 321.67,90.51 322.50,90.50 323.33,90.60 324.17,90.20 325.00,90.45 325.83,90.25 326.67,90.86 327.50,90.20 328.33,90.82 329.17,90.24 330.00,90.60 330.83,90.74 331.67,90.45 332.50,90.50 333.33,90.84 334.17,90.17 335.00,90.20 335.83,90.87 336.67,90.54 337.50,90.20 338.33,90.91 339.17,90.87 340.00,90.50 340.83,90.21 341.67,90.47 342.50,90.26 343.33,90.42 344.17,90.68 345.00,90.33 345.83,90.77 346.67,90.27 347.50,90.39 348.33,90.92 349.17,90.60 350.00,90.70 350.83,90.63 351.67,90.76 352.50,90.66 353.33,90.57 354.17,90.28 355.00,90.83 355.83,91.02 356.67,91.01 357.50,90.76 358.33,90.50 359.17,90.50 360.00,90.60 360.82,90.73 361.65,90.69 362.48,90.22 363.30,90.50 366.00,88.20 367.00,87.55 368.00,87.22 369.00,86.90 369.85,86.92 370.69,87.16 371.54,86.92 372.38,86.55 373.23,87.20 374.08,86.89 374.92,86.97 375.77,86.74 376.62,86.91 377.46,86.89 378.31,87.20 379.15,86.67 380.00,87.00 380.83,87.02 381.67,86.71 382.50,87.11 383.33,86.56 384.17,86.74 385.00,86.78 385.83,86.99 386.67,86.51 387.50,86.82 388.33,86.60 389.17,86.64 390.00,86.80 390.81,86.79 391.62,87.19 392.44,86.82 393.25,87.21 394.06,86.60 394.88,87.21 395.69,86.78 396.50,86.65 397.31,87.11 398.12,87.25 398.94,86.54 399.75,86.76 400.56,87.18 401.38,86.85 402.19,86.78 403.00,87.00" fill="none" stroke="#0000ff" stroke-width="1.5" stroke-linejoin="round" stroke-linecap="round" />
<line x1="258.00" y1="17.90" x2="312.10" y2="17.90" stroke="#b0b0b0" stroke-width="1.3" stroke-dasharray="0.7 0.5"/>
<line x1="306.10" y1="23.20" x2="312.00" y2="23.20" stroke="#b0b0b0" stroke-width="1.2" stroke-dasharray="0.7 0.5"/>
<text x="313.60" y="23.20" font-family='"Liberation Sans", sans-serif' font-size="7.6" text-anchor="start" font-weight="bold" font-style="normal" fill="#111" stroke="#111" stroke-width="0.2">ΔV<tspan font-size="5.1" dy="1.5">gs</tspan><tspan dy="-1.5">=1.0V</tspan></text>
<line x1="261.70" y1="33.70" x2="299.30" y2="33.70" stroke="#111" stroke-width="1.15" stroke-dasharray="3.2 2.6"/>
<path d="M255.60,33.70 L259.80,31.60 L257.91,33.70 L259.80,35.80 Z" fill="#111" stroke="#111" stroke-width="0.5" stroke-linejoin="round"/>
<path d="M304.80,33.70 L300.60,31.60 L302.49,33.70 L300.60,35.80 Z" fill="#111" stroke="#111" stroke-width="0.5" stroke-linejoin="round"/>
<text x="259.80" y="45.90" font-family='"Liberation Sans", sans-serif' font-size="10.3" text-anchor="start" font-weight="normal" font-style="normal" fill="#222" letter-spacing="0.2" stroke="#222" stroke-width="0.15">8.6 µs</text>
<ellipse cx="364.1" cy="87.1" rx="8.8" ry="5.7" fill="none" stroke="#000" stroke-width="1.2"/>
<text x="334.00" y="105.60" font-family='"Liberation Sans", sans-serif' font-size="10.15" text-anchor="start" font-weight="normal" font-style="normal" fill="#1a1a1a" >Gate damage</text>
<text transform="translate(377.3,76.9) skewX(-7) scale(0.94,1)" font-family='"Liberation Sans", sans-serif' font-size="15.6" font-style="italic" fill="#1a1aff" stroke="#1a1aff" stroke-width="0.3">V</text>
<text x="386.90" y="79.60" font-family='"Liberation Sans", sans-serif' font-size="10.8" text-anchor="start" font-weight="normal" font-style="normal" fill="#1a1aff" stroke="#1a1aff" stroke-width="0.4">gs</text>
<polyline points="253.20,228.50 255.00,228.30" fill="none" stroke="#0f840f" stroke-width="1.5" stroke-linejoin="round" stroke-linecap="round" />
<polyline points="255.00,228.30 257.50,212.00 259.90,196.00 261.40,187.00 265.20,164.00 267.40,156.40" fill="none" stroke="#3aa03a" stroke-width="0.9" stroke-linejoin="round" stroke-linecap="round" />
<polyline points="267.40,156.40 269.60,149.70 272.60,141.60 275.50,135.00 278.50,131.30 280.50,129.80 281.50,129.47 282.50,129.20 283.35,129.44 284.20,129.90 287.30,132.10 291.70,136.50 296.10,141.60 300.50,147.50 303.50,151.20 306.40,154.60" fill="none" stroke="#108c10" stroke-width="1.4" stroke-linejoin="round" stroke-linecap="round" />
<polyline points="306.40,154.60 308.60,200.00 309.70,216.60 311.10,224.20" fill="none" stroke="#6fbf6f" stroke-width="0.8" stroke-linejoin="round" stroke-linecap="round" />
<polyline points="311.10,224.20 313.20,226.00 314.00,226.16 314.80,226.32 315.60,227.09 316.40,226.88 317.20,227.62 318.00,227.90 318.80,227.80 319.60,227.54 320.40,227.97 321.20,227.56 322.00,227.94 322.80,227.63 323.60,227.67 324.40,227.99 325.20,228.37 326.00,227.76 326.80,227.87 327.60,228.25 328.40,228.56 329.20,228.25 330.00,228.20 330.80,228.12 331.60,228.64 332.40,227.82 333.20,228.55 334.00,228.05 334.80,227.93 335.60,227.91 336.40,228.09 337.20,228.56 338.00,227.99 338.80,228.36 339.60,228.42 340.40,228.19 341.20,228.35 342.00,227.93 342.80,227.93 343.60,228.07 344.40,228.51 345.20,228.29 346.00,228.19 346.80,228.45 347.60,228.33 348.40,228.20 349.20,228.66 350.00,228.40 350.81,228.58 351.62,228.17 352.43,228.47 353.24,228.42 354.05,228.74 354.86,228.61 355.68,228.21 356.49,228.83 357.30,228.06 358.11,228.33 358.92,228.63 359.73,228.09 360.54,228.39 361.35,227.99 362.16,228.55 362.97,228.64 363.78,228.47 364.59,228.74 365.41,228.23 366.22,228.58 367.03,228.48 367.84,228.47 368.65,228.36 369.46,228.71 370.27,228.80 371.08,228.38 371.89,228.55 372.70,228.00 373.51,228.58 374.32,228.53 375.14,228.84 375.95,228.69 376.76,228.21 377.57,228.30 378.38,228.55 379.19,227.97 380.00,228.40 380.82,228.37 381.64,228.10 382.46,228.06 383.29,228.00 384.11,228.64 384.93,228.07 385.75,228.17 386.57,228.30 387.39,228.73 388.21,228.02 389.04,228.35 389.86,228.44 390.68,228.75 391.50,228.69 392.32,228.73 393.14,228.20 393.96,228.32 394.79,228.27 395.61,228.75 396.43,228.81 397.25,228.09 398.07,228.11 398.89,228.16 399.71,228.16 400.54,228.39 401.36,228.48 402.18,228.19 403.00,228.40" fill="none" stroke="#0f840f" stroke-width="1.5" stroke-linejoin="round" stroke-linecap="round" />
<polyline points="253.20,177.40 254.30,177.10 255.20,177.80 255.60,186.30 256.50,186.06 257.40,186.83 258.30,186.03 259.20,186.64 260.10,186.05 261.00,186.50 262.00,186.30 263.00,187.10 264.00,186.36 265.00,186.70 266.50,188.50 267.43,188.67 268.36,188.52 269.29,188.54 270.22,188.61 271.15,188.34 272.08,189.01 273.01,188.30 273.94,188.47 274.87,188.29 275.80,188.80 276.85,188.59 277.90,188.76 278.95,189.28 280.00,188.90 281.00,188.73 282.00,188.41 283.00,188.51 284.00,189.19 285.00,188.21 286.00,188.60 286.98,188.42 287.95,187.88 288.92,187.86 289.90,187.40 290.87,187.16 291.83,187.44 292.80,187.17 293.77,187.25 294.73,187.43 295.70,187.03 296.67,186.52 297.63,186.36 298.60,187.17 299.57,186.64 300.53,186.27 301.50,186.50 302.50,186.77 303.50,186.22 304.50,186.19 305.50,186.16 306.50,185.60 307.00,166.60 308.10,167.40 312.30,179.80 313.26,179.56 314.23,179.61 315.19,180.10 316.15,179.33 317.11,179.94 318.07,179.25 319.04,179.82 320.00,179.60 320.91,179.79 321.82,180.03 322.73,179.92 323.64,179.57 324.55,179.25 325.45,179.20 326.36,179.57 327.27,179.54 328.18,179.09 329.09,179.91 330.00,179.51 330.91,179.69 331.82,179.20 332.73,179.22 333.64,178.98 334.55,179.30 335.45,179.21 336.36,179.36 337.27,179.30 338.18,179.75 339.09,179.80 340.00,179.40 340.91,179.07 341.82,179.29 342.73,179.05 343.64,179.54 344.55,179.85 345.45,179.07 346.36,179.63 347.27,179.16 348.18,178.87 349.09,179.62 350.00,179.19 350.91,179.02 351.82,179.28 352.73,179.07 353.64,179.24 354.55,179.27 355.45,179.24 356.36,179.41 357.27,179.10 358.18,178.90 359.09,178.89 360.00,179.30 360.91,178.91 361.82,179.32 362.73,179.16 363.64,179.61 364.55,179.30 365.45,179.51 366.36,179.78 367.27,178.86 368.18,178.82 369.09,178.94 370.00,179.19 370.91,179.37 371.82,179.54 372.73,179.15 373.64,179.76 374.55,178.80 375.45,179.64 376.36,179.01 377.27,179.68 378.18,178.83 379.09,179.77 380.00,179.30 380.92,179.56 381.84,179.78 382.76,179.37 383.68,178.96 384.60,179.75 385.52,179.22 386.44,178.86 387.36,179.37 388.28,179.26 389.20,179.23 390.12,178.91 391.04,178.87 391.96,179.33 392.88,179.20 393.80,178.87 394.72,179.18 395.64,179.46 396.56,179.44 397.48,179.20 398.40,179.11 399.32,179.08 400.24,178.94 401.16,178.91 402.08,179.15 403.00,179.20" fill="none" stroke="#ff0000" stroke-width="1.3" stroke-linejoin="round" stroke-linecap="round" />
<ellipse cx="300.2" cy="143.0" rx="4.6" ry="8.9" transform="rotate(5 300.2 143.0)" fill="none" stroke="#0b6e0b" stroke-width="1.3"/>
<line x1="305.00" y1="137.60" x2="313.80" y2="137.60" stroke="#0b6e0b" stroke-width="1.0" />
<polyline points="310.6,135.2 314.1,137.6 310.6,140.0" fill="none" stroke="#0b6e0b" stroke-width="1.1"/>
<text transform="translate(316.0,141.4) skewX(-8)" font-family='"Liberation Serif", serif' font-size="16" font-style="italic" fill="#228b22">I</text>
<text x="321.40" y="144.30" font-family='"Liberation Serif", serif' font-size="10" text-anchor="start" font-weight="normal" font-style="normal" fill="#228b22" >d</text>
<ellipse cx="330.2" cy="179.6" rx="4.4" ry="8.4" fill="none" stroke="#ff0000" stroke-width="1.2"/>
<line x1="327.50" y1="188.30" x2="319.50" y2="188.30" stroke="#ff0000" stroke-width="1.1" />
<polyline points="322.8,186.0 319.3,188.3 322.8,190.6" fill="none" stroke="#ff0000" stroke-width="1.1"/>
<text transform="translate(315.4,207.1) skewX(-7) scale(0.94,1)" font-family='"Liberation Sans", sans-serif' font-size="15.6" font-style="italic" fill="#ff1a1a" stroke="#ff1a1a" stroke-width="0.3">V</text>
<text x="325.50" y="210.50" font-family='"Liberation Sans", sans-serif' font-size="10.3" text-anchor="start" font-weight="normal" font-style="normal" fill="#ff1a1a" stroke="#ff1a1a" stroke-width="0.25">ds</text>
</svg>
</body></html>
